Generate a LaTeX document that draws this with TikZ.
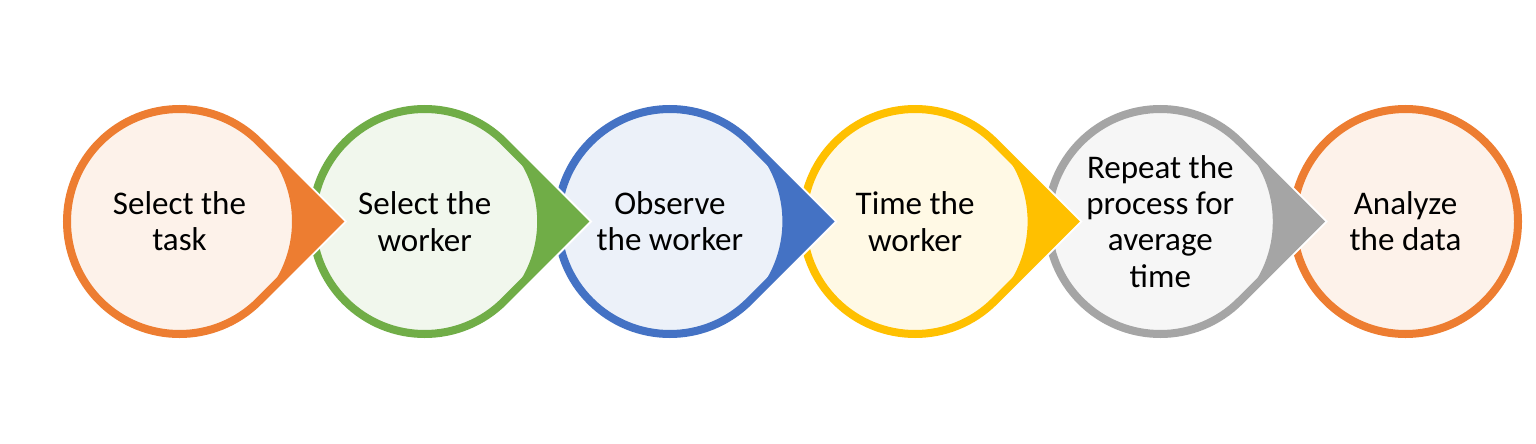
\documentclass[tikz,border=0pt]{standalone}
\usepackage{fontspec}
\setmainfont{Carlito}
\usetikzlibrary{calc}
\definecolor{stepOrange}{RGB}{237,125,49}
\definecolor{stepGreen}{RGB}{112,173,71}
\definecolor{stepBlue}{RGB}{68,114,196}
\definecolor{stepGold}{RGB}{255,192,0}
\definecolor{stepGray}{RGB}{165,165,165}

\begin{document}
\begin{tikzpicture}[
    x=0.025cm, y=0.025cm,
    steptext/.style={align=center, text=black,
                     font=\fontsize{23.5}{25.8}\selectfont},
    halo/.style={draw=white, fill=white, line width=0.3cm, line join=miter},
    drop/.style={line width=0.2cm, line join=miter},
]
    \useasboundingbox (0,0) rectangle (1536,443);

    % drawn right to left so that each point lies over the next circle
    \foreach \n/\cx/\col/\txt/\tip in {
        6/1405.5/stepOrange/{Analyze\\the data}/0,
        5/1160.3/stepGray/{Repeat the\\process for\\average\\time}/1,
        4/915.1/stepGold/{Time the\\worker}/1,
        3/669.9/stepBlue/{Observe\\the worker}/1,
        2/424.7/stepGreen/{Select the\\worker}/1,
        1/179.5/stepOrange/{Select the\\task}/1}
    {
        \coordinate (c\n) at (\cx,221.5);
        \ifnum\tip=1
            \coordinate (p\n) at ($(c\n)+(159.1,0)$);
            \path[halo] ($(c\n)+(45:112.5)$) -- (p\n)
                -- ($(c\n)+(-45:112.5)$)
                arc[start angle=-45, end angle=-315, radius=112.5] -- cycle;
            \path[drop, draw=\col, fill=\col!10] ($(c\n)+(45:112.5)$) -- (p\n)
                -- ($(c\n)+(-45:112.5)$)
                arc[start angle=-45, end angle=-315, radius=112.5] -- cycle;
            \fill[\col] ($(c\n)+(45:112.5)$) -- (p\n)
                -- ($(c\n)+(-45:112.5)$)
                arc[start angle=-45, end angle=45, radius=112.5] -- cycle;
        \else
            \draw[drop, draw=\col, fill=\col!10] (c\n) circle[radius=112.5];
        \fi
        \node[steptext] (t\n) at (c\n) {\txt};
    }
\end{tikzpicture}
\end{document}
